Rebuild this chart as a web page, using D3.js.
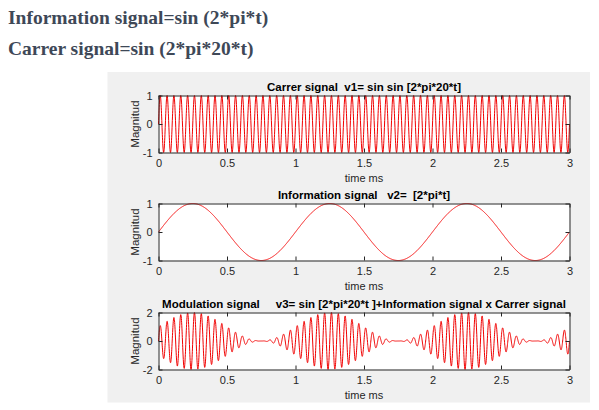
<!DOCTYPE html>
<html><head><meta charset="utf-8">
<script src="https://cdn.jsdelivr.net/npm/d3@7"></script>
<style>body{margin:0;background:#fff}svg{display:block}text{white-space:pre}</style>
</head><body>
<svg id="c" width="599" height="410"></svg>
<script>
// Header texts
const headerLines = ["Information signal=sin (2*pi*t)", "Carrer signal=sin (2*pi*20*t)"];
// Signal parameters as stated in the chart's own formulas
const timeRange = [0, 3];
const sampleStep = 0.001;
const infoFreq = 1;     // sin(2*pi*t)
const carrierFreq = 20; // sin(2*pi*20*t)
// Subplots
const titles = [
  "Carrer signal  v1= sin sin [2*pi*20*t]",
  "Information signal   v2=  [2*pi*t]",
  "Modulation signal     v3= sin [2*pi*20*t ]+Information signal x Carrer signal"
];
const yDomains = [[-1, 1], [-1, 1], [-2, 2]];
const yTicks = [[-1, 0, 1], [-1, 0, 1], [-2, 0, 2]];
const xTicks = [0, 0.5, 1, 1.5, 2, 2.5, 3];
const xLabel = "time ms";
const yLabel = "Magnitud";

const t = d3.range(Math.round((timeRange[1] - timeRange[0]) / sampleStep) + 1).map(i => timeRange[0] + i * sampleStep);
const carrier = t.map(v => Math.sin(2 * Math.PI * carrierFreq * v));
const info = t.map(v => Math.sin(2 * Math.PI * infoFreq * v));
const modulated = t.map((v, i) => carrier[i] + info[i] * carrier[i]);
const series = [carrier, info, modulated];

const svg = d3.select("#c");
const ink = "#262626";

svg.selectAll("text.hdr").data(headerLines).join("text")
  .attr("class", "hdr")
  .attr("x", 8).attr("y", (d, i) => 24 + i * 31)
  .attr("font-family", "'Liberation Serif', 'DejaVu Serif', serif")
  .attr("font-weight", "bold").attr("font-size", 19.5)
  .attr("fill", "#3e4857").text(d => d);

svg.append("rect").attr("x", 107.5).attr("y", 72).attr("width", 482.5).attr("height", 330.5).attr("fill", "#f0f0f0");

const left = 158.5, right = 569.5;
const tops = [95.5, 203.5, 312.5];
const h = 57;
const x = d3.scaleLinear().domain(timeRange).range([left, right]);

tops.forEach((top, k) => {
  const y = d3.scaleLinear().domain(yDomains[k]).range([top + h, top]);
  const g = svg.append("g");
  g.append("rect").attr("x", left).attr("y", top).attr("width", right - left).attr("height", h).attr("fill", "#fff");
  const clipId = "clip" + k;
  svg.append("clipPath").attr("id", clipId).append("rect").attr("x", left - 1).attr("y", top - 1).attr("width", right - left + 2).attr("height", h + 2);
  g.append("path").datum(series[k])
    .attr("clip-path", `url(#${clipId})`)
    .attr("fill", "none").attr("stroke", "#f00000").attr("stroke-width", 1)
    .attr("d", d3.line().x((d, i) => x(t[i])).y(d => y(d)));

  const xb = g.append("g").attr("transform", `translate(0,${top + h})`)
    .call(d3.axisBottom(x).tickValues(xTicks).tickSizeInner(-4).tickSizeOuter(0).tickPadding(7).tickFormat(d3.format("")));
  const xt = g.append("g").attr("transform", `translate(0,${top})`)
    .call(d3.axisTop(x).tickValues(xTicks).tickSizeInner(-4).tickSizeOuter(0).tickFormat(""));
  const yl = g.append("g").attr("transform", `translate(${left},0)`)
    .call(d3.axisLeft(y).tickValues(yTicks[k]).tickSizeInner(-4).tickSizeOuter(0).tickPadding(6).tickFormat(d3.format("")));
  const yr = g.append("g").attr("transform", `translate(${right},0)`)
    .call(d3.axisRight(y).tickValues(yTicks[k]).tickSizeInner(-4).tickSizeOuter(0).tickFormat(""));
  [xb, xt, yl, yr].forEach(a => {
    a.select(".domain").attr("stroke", ink).attr("stroke-width", 1);
    a.selectAll(".tick line").attr("stroke", ink);
    a.selectAll("text").attr("fill", ink).attr("font-family", "'Liberation Sans', Arial, sans-serif").attr("font-size", 11);
  });
  yl.selectAll("text").text(d => d < 0 ? "-" + Math.abs(d) : d);

  g.append("text").attr("x", (left + right) / 2).attr("y", top - 4.5)
    .attr("text-anchor", "middle").attr("font-family", "'Liberation Sans', Arial, sans-serif")
    .attr("font-weight", "bold").attr("font-size", 11.5).attr("fill", "#000").text(titles[k]);
  g.append("text").attr("x", (left + right) / 2).attr("y", top + h + 29)
    .attr("text-anchor", "middle").attr("font-family", "'Liberation Sans', Arial, sans-serif")
    .attr("font-size", 11).attr("fill", ink).text(xLabel);
  g.append("text").attr("transform", `translate(${left - 20},${top + h / 2}) rotate(-90)`)
    .attr("text-anchor", "middle").attr("font-family", "'Liberation Sans', Arial, sans-serif")
    .attr("font-size", 11.5).attr("fill", ink).text(yLabel);
});
</script>
</body></html>
